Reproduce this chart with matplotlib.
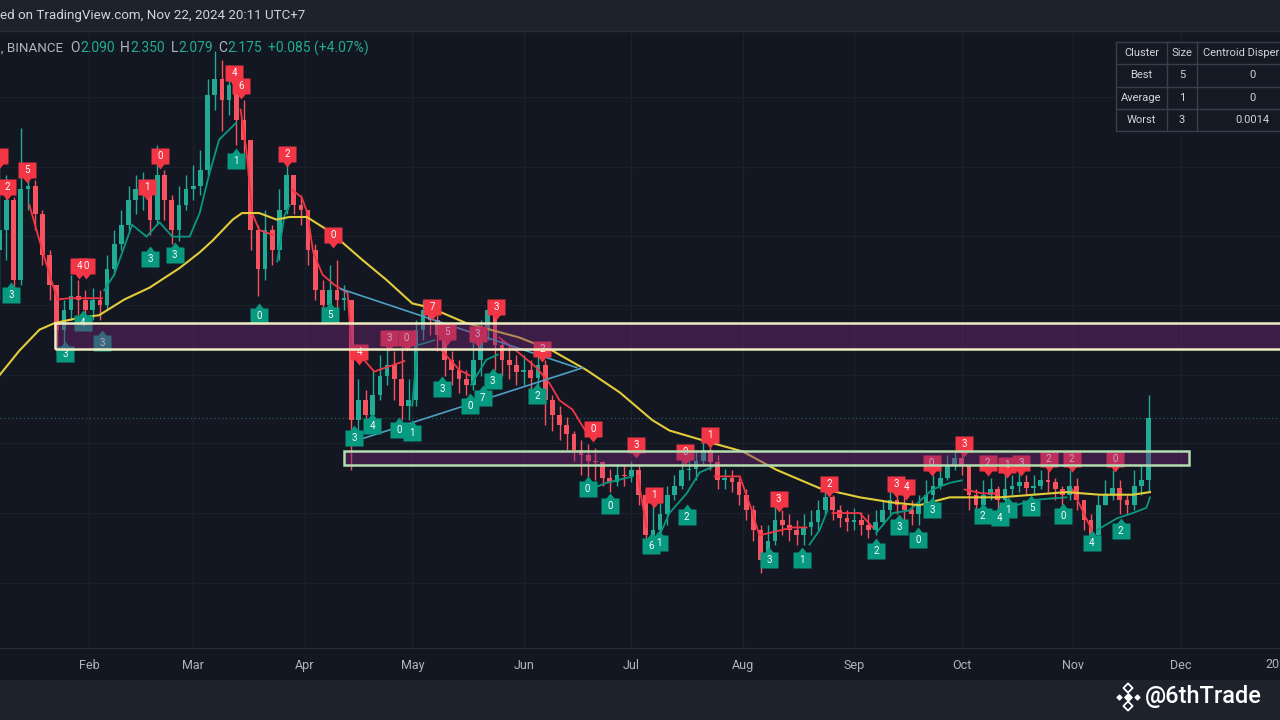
import matplotlib
matplotlib.use("Agg")
import matplotlib.pyplot as plt
import matplotlib.dates as mdates
from matplotlib.path import Path
from matplotlib.markers import MarkerStyle
from matplotlib.patches import Rectangle
import numpy as np

plt.rcParams['font.family'] = ['Roboto', 'DejaVu Sans']

BG = '#131722'
PANEL = '#1e222d'
GRID = '#1c202b'
TXT = '#b2b5be'
CANDLE_UP = '#22ab94'
CANDLE_DN = '#f7525f'
UP = '#089981'
DN = '#f23645'

# ---- candles: one every 2 days, 2024-01-07 .. 2024-11-22 ----
first_day = np.datetime64('2024-01-07')
first_open = 3.46
closes = [3.61, 3.84, 3.23, 3.92, 3.95, 3.73, 3.42, 3.19, 2.85, 3.00,
          3.11, 3.08, 3.00, 3.08, 3.04, 3.31, 3.50, 3.65, 3.84, 3.92,
          3.95, 3.69, 4.03, 3.84, 3.61, 3.80, 3.92, 3.95, 4.07, 4.64,
          4.76, 4.60, 4.72, 4.45, 4.30, 3.61, 3.31, 3.61, 3.46, 3.76,
          4.03, 3.80, 3.76, 3.46, 3.15, 3.04, 3.15, 3.08, 3.08, 2.16,
          2.31, 2.20, 2.35, 2.50, 2.58, 2.47, 2.27, 2.31, 2.85, 3.00,
          2.92, 2.81, 2.62, 2.54, 2.47, 2.43, 2.62, 2.85, 3.00, 2.73,
          2.62, 2.58, 2.53, 2.54, 2.48, 2.58, 2.31, 2.20, 2.12, 2.05,
          1.93, 1.89, 1.85, 1.84, 1.72, 1.69, 1.74, 1.73, 1.78, 1.59,
          1.28, 1.32, 1.44, 1.59, 1.66, 1.78, 1.79, 1.85, 1.93, 1.84,
          1.70, 1.72, 1.69, 1.59, 1.47, 1.32, 1.09, 1.24, 1.40, 1.36,
          1.32, 1.28, 1.34, 1.38, 1.47, 1.57, 1.47, 1.41, 1.38, 1.40,
          1.36, 1.32, 1.38, 1.47, 1.55, 1.51, 1.47, 1.44, 1.51, 1.59,
          1.66, 1.72, 1.82, 1.87, 1.82, 1.59, 1.51, 1.59, 1.63, 1.55,
          1.63, 1.66, 1.69, 1.64, 1.66, 1.70, 1.69, 1.63, 1.59, 1.66,
          1.55, 1.40, 1.28, 1.51, 1.59, 1.64, 1.55, 1.51, 1.66, 1.70,
          2.175]
highs = [4.15, 4.03, 3.86, 4.39, 4.11, 3.99, 3.76, 3.46, 3.15, 3.08,
         3.27, 3.23, 3.15, 3.17, 3.15, 3.42, 3.61, 3.76, 3.95, 4.03,
         4.05, 3.92, 4.26, 4.07, 3.88, 3.95, 4.03, 4.11, 4.22, 4.76,
         4.98, 4.91, 4.87, 4.76, 4.60, 4.30, 3.65, 3.76, 3.65, 3.92,
         4.11, 4.03, 3.88, 3.76, 3.50, 3.23, 3.34, 3.38, 3.19, 3.08,
         2.47, 2.39, 2.54, 2.66, 2.73, 2.69, 2.73, 2.47, 2.92, 3.08,
         3.04, 2.96, 2.85, 2.69, 2.62, 2.54, 2.77, 2.92, 3.08, 3.04,
         2.77, 2.73, 2.66, 2.66, 2.62, 2.68, 2.62, 2.35, 2.27, 2.18,
         2.08, 2.01, 1.98, 1.95, 1.85, 1.79, 1.82, 1.82, 1.85, 1.82,
         1.63, 1.55, 1.55, 1.66, 1.74, 1.85, 1.89, 1.93, 2.01, 1.97,
         1.89, 1.79, 1.78, 1.72, 1.63, 1.51, 1.36, 1.36, 1.51, 1.47,
         1.44, 1.40, 1.44, 1.47, 1.55, 1.63, 1.59, 1.51, 1.47, 1.49,
         1.46, 1.44, 1.47, 1.55, 1.63, 1.59, 1.57, 1.55, 1.59, 1.70,
         1.74, 1.82, 1.89, 1.93, 1.92, 1.82, 1.63, 1.70, 1.72, 1.66,
         1.74, 1.74, 1.78, 1.74, 1.74, 1.78, 1.78, 1.72, 1.66, 1.78,
         1.72, 1.55, 1.44, 1.59, 1.70, 1.78, 1.70, 1.59, 1.78, 1.82,
         2.35]
lows = [3.08, 3.38, 3.08, 3.19, 3.76, 3.61, 3.34, 3.08, 2.66, 2.73,
        2.92, 2.96, 2.85, 2.92, 2.92, 3.00, 3.27, 3.46, 3.61, 3.73,
        3.76, 3.57, 3.65, 3.69, 3.50, 3.53, 3.76, 3.84, 3.88, 4.03,
        4.53, 4.37, 4.49, 4.26, 4.15, 3.46, 3.11, 3.23, 3.34, 3.38,
        3.73, 3.73, 3.65, 3.34, 3.08, 2.92, 3.00, 3.00, 3.00, 1.78,
        2.08, 2.08, 2.16, 2.31, 2.43, 2.31, 2.16, 2.16, 2.27, 2.77,
        2.81, 2.69, 2.50, 2.43, 2.37, 2.35, 2.39, 2.50, 2.77, 2.54,
        2.50, 2.47, 2.43, 2.43, 2.39, 2.39, 2.12, 2.08, 2.01, 1.93,
        1.85, 1.74, 1.72, 1.70, 1.66, 1.61, 1.66, 1.66, 1.69, 1.51,
        1.18, 1.17, 1.24, 1.36, 1.55, 1.63, 1.70, 1.70, 1.82, 1.78,
        1.63, 1.63, 1.61, 1.51, 1.40, 1.24, 0.99, 1.05, 1.21, 1.28,
        1.24, 1.21, 1.21, 1.28, 1.32, 1.44, 1.40, 1.34, 1.31, 1.32,
        1.28, 1.26, 1.28, 1.36, 1.44, 1.44, 1.40, 1.36, 1.36, 1.47,
        1.55, 1.63, 1.70, 1.78, 1.74, 1.47, 1.46, 1.47, 1.55, 1.47,
        1.51, 1.59, 1.61, 1.59, 1.59, 1.63, 1.61, 1.55, 1.51, 1.55,
        1.47, 1.32, 1.21, 1.24, 1.51, 1.55, 1.44, 1.44, 1.47, 1.59,
        1.61]

# moving average (yellow), positions in bars (2-day steps from first_day)
ma_bar = [0, 2.8, 5.6, 7.7, 11.1, 13.9, 17.4, 20.9, 25.1, 27.9, 29.7, 32.5, 33.8, 36.2,
          38.6, 40.4, 42.8, 46.0, 50.6, 53.9, 57.5, 59.9, 65.0, 72.4, 77.0, 81.8, 86.4,
          90.9, 93.3, 98.9, 103.5, 108.2, 114.2, 119.8, 124.4, 128.1, 132.3, 139.3,
          148.6, 153.2, 157.8, 160.2]
ma_price = [2.50, 2.69, 2.85, 2.90, 2.94, 2.96, 3.08, 3.17, 3.32, 3.44, 3.53, 3.69, 3.74,
            3.74, 3.69, 3.71, 3.71, 3.60, 3.38, 3.23, 3.05, 3.02, 2.90, 2.79, 2.69, 2.54,
            2.37, 2.16, 2.08, 1.99, 1.92, 1.78, 1.64, 1.57, 1.53, 1.51, 1.57, 1.57, 1.61,
            1.59, 1.59, 1.61]

# trailing stop (1 = bullish / teal, -1 = bearish / red)
trail_bar = [4.2, 5.6, 7.0, 8.1, 9.7, 14.3,
             14.6, 16.0, 18.5, 20.5, 22.3, 24.1, 26.5, 27.9, 29.2, 30.6, 33.0,
             33.6, 34.4, 35.2, 36.2, 38.3,
             38.7, 39.7, 40.4,
             40.7, 42.1, 42.9, 43.7, 45.0, 46.7, 48.5, 49.0, 52.2, 56.4,
             57.5, 58.2, 60.6,
             61.6, 64.1, 65.5,
             65.7, 67.8, 69.4,
             69.6, 72.4, 74.8, 76.6, 78.0, 79.8, 81.8,
             82.2, 84.5, 88.2,
             88.9, 90.1,
             91.6, 93.3, 95.7, 97.5, 99.2,
             99.6, 103.1, 104.9, 105.8, 110.4, 112.4,
             112.8, 114.2, 115.3,
             116.0, 119.8, 121.6,
             122.1, 124.4, 126.7, 129.9, 132.3, 134.0,
             134.4, 136.9, 139.0,
             139.3, 143.9, 148.6,
             149.4, 151.4, 152.1,
             152.8, 155.6, 157.8, 159.7, 160.2]
trail_price = [3.80, 3.53, 3.27, 3.08, 3.09, 3.09,
               3.15, 3.27, 3.65, 3.56, 3.67, 3.56, 3.56, 3.74, 4.03, 4.30, 4.43,
               4.53, 4.22, 3.74, 3.61, 3.57,
               3.37, 3.72, 3.80,
               3.92, 3.86, 3.74, 3.44, 3.27, 3.19, 3.13, 2.73, 2.53, 2.61,
               2.27, 2.73, 2.77,
               2.69, 2.54, 2.50,
               2.43, 2.62, 2.66,
               2.79, 2.67, 2.56, 2.44, 2.31, 2.24, 2.06,
               1.63, 1.68, 1.73,
               1.73, 1.34,
               1.24, 1.45, 1.60, 1.76, 1.80,
               1.73, 1.73, 1.45, 1.28, 1.34, 1.34,
               1.21, 1.32, 1.47,
               1.45, 1.45, 1.34,
               1.30, 1.45, 1.47, 1.63, 1.68, 1.70,
               1.63, 1.60, 1.60,
               1.47, 1.55, 1.57,
               1.63, 1.40, 1.32,
               1.32, 1.41, 1.45, 1.49, 1.57]
trail_side = ([-1] * 6 + [1] * 11 + [-1] * 5 + [1] * 3 + [-1] * 10 + [1] * 3 + [-1] * 3 +
              [1] * 3 + [-1] * 7 + [1] * 3 + [-1] * 2 + [1] * 5 + [-1] * 6 + [1] * 3 +
              [-1] * 3 + [1] * 6 + [-1] * 3 + [1] * 3 + [-1] * 3 + [1] * 5)

# cluster signal labels
red_bar = [0.0, 1.1, 3.8, 11.1, 12.1, 20.5, 22.4, 32.7, 33.6, 40.1, 46.5, 50.1, 54.3, 56.7,
           60.3, 62.3, 66.6, 69.2, 75.6, 82.7, 88.7, 91.1, 95.5, 99.0, 108.5, 115.5, 124.9,
           126.3, 129.8, 134.3, 137.6, 140.3, 142.3, 146.1, 149.3, 155.3]
red_price = [4.08, 3.84, 3.97, 3.24, 3.24, 3.84, 4.08, 4.71, 4.61, 4.09, 3.47, 2.58, 2.69,
             2.69, 2.92, 2.73, 2.72, 2.92, 2.60, 1.99, 1.87, 1.49, 1.82, 1.95, 1.46, 1.57,
             1.57, 1.55, 1.73, 1.88, 1.73, 1.72, 1.73, 1.76, 1.76, 1.76]
red_text = ['3', '2', '5', '4', '0', '1', '0', '4', '6', '2', '0', '4', '3', '0', '7', '5',
            '3', '3', '2', '0', '3', '1', '0', '1', '3', '2', '3', '4', '0', '3', '2', '1',
            '3', '2', '2', '0']
teal_bar = [1.7, 9.2, 11.6, 14.3, 21.0, 24.4, 32.9, 36.2, 46.0, 49.4, 51.9, 55.7, 57.4, 61.7,
            65.5, 67.3, 68.7, 74.9, 81.9, 85.0, 90.8, 91.9, 95.7, 107.2, 111.8, 122.1, 125.3,
            127.9, 129.9, 136.9, 139.3, 140.4, 143.7, 148.1, 152.1, 156.1]
teal_price = [3.21, 2.76, 3.00, 2.85, 3.49, 3.52, 4.24, 3.05, 3.06, 2.12, 2.21, 2.18, 2.16,
              2.50, 2.37, 2.43, 2.56, 2.44, 1.73, 1.60, 1.30, 1.32, 1.52, 1.19, 1.19, 1.26,
              1.44, 1.34, 1.57, 1.53, 1.51, 1.57, 1.59, 1.53, 1.32, 1.41]
teal_text = ['3', '3', '4', '3', '3', '3', '1', '0', '5', '3', '4', '0', '1', '3', '0', '7',
             '3', '2', '0', '0', '6', '1', '2', '3', '1', '2', '3', '0', '3', '2', '4', '1',
             '5', '0', '4', '2']

# supply / demand zones
zone_start = [7.7, 48.0]
zone_end = [190.0, 165.7]
zone_low = [2.70, 1.82]
zone_high = [2.90, 1.92]
zone_edge = ['#f1edc2', '#b4dcb0']

# triangle trend lines
tri_upper_bar = [47.6, 80.4]
tri_upper_price = [3.16, 2.56]
tri_lower_bar = [50.1, 81.3]
tri_lower_price = [2.01, 2.56]

last_price = 2.175
grid_prices = [0.916, 1.45, 1.985, 2.504, 3.04, 3.565, 4.09, 4.626]

clusters = ['Best', 'Average', 'Worst']
cluster_size = ['5', '1', '3']
cluster_disp = ['0', '0', '0.0014']


base = mdates.date2num(first_day)


def bar_x(b):
    return base + 2.0 * np.asarray(b, dtype=float)


fig = plt.figure(figsize=(12.8, 7.2), dpi=100, facecolor=BG)
ax = fig.add_axes([0, 0.1, 1, 1 - 0.1 - 32 / 720])
ax.set_facecolor(BG)

c = np.array(closes)
o = np.r_[first_open, c[:-1]]
h = np.maximum(np.array(highs), np.maximum(o, c))
lo = np.minimum(np.array(lows), np.minimum(o, c))
x = bar_x(np.arange(len(c)))
cols = np.where(c >= o, CANDLE_UP, CANDLE_DN)
ax.vlines(x, lo, h, colors=cols, lw=1.0, zorder=2)
body = np.maximum(np.abs(c - o), 0.008)
ax.bar(x, body, bottom=np.minimum(o, c), width=1.3, color=cols, lw=0, zorder=2)

# trailing stop segments
tb = np.array(trail_bar)
tp = np.array(trail_price)
ts = np.array(trail_side)
start = 0
for k in range(1, len(ts) + 1):
    if k == len(ts) or ts[k] != ts[start]:
        colr = UP if ts[start] > 0 else DN
        ax.plot(bar_x(tb[start:k]), tp[start:k], color=colr, lw=1.3, zorder=3,
                solid_joinstyle='miter')
        start = k

ax.plot(bar_x(ma_bar), ma_price, color='#e3cc3a', lw=1.5, zorder=3)

ax.plot(bar_x(tri_upper_bar), tri_upper_price, color='#4f9fc4', lw=1.2, zorder=4)
ax.plot(bar_x(tri_lower_bar), tri_lower_price, color='#4f9fc4', lw=1.2, zorder=4)

ax.axhline(last_price, color='#2a8c7e', lw=0.8, ls=(0, (1, 2.5)), alpha=0.7, zorder=1)

# labels: custom marker with the pointer tip at the origin
down_verts = [(0, 0), (-4, 5), (-9, 5), (-9, 21), (9, 21), (9, 5), (4, 5), (0, 0)]
codes = [Path.MOVETO] + [Path.LINETO] * 6 + [Path.CLOSEPOLY]
down_mk = MarkerStyle(Path(down_verts, codes))
up_mk = MarkerStyle(Path([(vx, -vy) for vx, vy in down_verts], codes))
msize = 21 * 0.72 * 2

ax.plot(bar_x(red_bar), red_price, ls='none', marker=down_mk, markersize=msize,
        color=DN, mew=0, zorder=5)
ax.plot(bar_x(teal_bar), teal_price, ls='none', marker=up_mk, markersize=msize,
        color=UP, mew=0, zorder=5)
for b, p, t in zip(red_bar, red_price, red_text):
    ax.annotate(t, (bar_x(b), p), xytext=(0, 13), textcoords='offset pixels',
                ha='center', va='center', fontsize=7, color='white', zorder=5)
for b, p, t in zip(teal_bar, teal_price, teal_text):
    ax.annotate(t, (bar_x(b), p), xytext=(0, -13), textcoords='offset pixels',
                ha='center', va='center', fontsize=7, color='white', zorder=5)

# zones drawn on top with translucent fill
for s, e, zl, zh, ec in zip(zone_start, zone_end, zone_low, zone_high, zone_edge):
    x0, x1 = bar_x(s), bar_x(e)
    ax.add_patch(Rectangle((x0, zl), x1 - x0, zh - zl, facecolor='#742679', alpha=0.42,
                           lw=0, zorder=6))
    ax.add_patch(Rectangle((x0, zl), x1 - x0, zh - zl, facecolor='none', edgecolor=ec,
                           lw=1.8, zorder=6))

ax.set_xlim(base + 0.2, base + 2 * 178.3)
ax.set_ylim(0.42, 5.122)
ax.xaxis.set_major_locator(mdates.MonthLocator(bymonth=range(2, 13)))
ax.xaxis.set_major_formatter(mdates.DateFormatter('%b'))
ax.set_yticks(grid_prices)
ax.set_yticklabels([])
ax.tick_params(axis='both', length=0, colors=TXT, labelsize=9, pad=8)
ax.tick_params(axis='y', labelleft=False)
ax.grid(True, color=GRID, lw=1.0, zorder=0)
ax.set_axisbelow(True)
for sp in ax.spines.values():
    sp.set_visible(False)
ax.spines['bottom'].set_visible(True)
ax.spines['bottom'].set_color('#2a2e39')

# ---- chrome: header, table, watermark in pixel coords ----
ov = fig.add_axes([0, 0, 1, 1], zorder=10)
ov.set_xlim(0, 1280)
ov.set_ylim(720, 0)
ov.axis('off')
ov.patch.set_alpha(0)

ov.add_patch(Rectangle((0, 0), 1280, 31, color=PANEL, lw=0))
ov.plot([0, 1280], [31, 31], color='#2a2e39', lw=1)
ov.text(0, 16, 'ed on TradingView.com, Nov 22, 2024 20:11 UTC+7', color='#d1d4dc',
        fontsize=9.6, va='center', ha='left')

TV_TEAL = '#22ab94'
ov.text(63, 48, 'D, BINANCE', color=TXT, fontsize=9.6, va='center', ha='right')
parts = [(70, 'O', TXT), (80, '2.090', TV_TEAL),
         (120, 'H', TXT), (130, '2.350', TV_TEAL), (171, 'L', TXT), (178, '2.079', TV_TEAL),
         (218, 'C', TXT), (227, '2.175', TV_TEAL), (268, '+0.085 (+4.07%)', TV_TEAL)]
for px, s, colr in parts:
    ov.text(px, 48, s, color=colr, fontsize=10, va='center', ha='left')

# cluster table
col_x = [1116, 1167, 1197, 1320]
row_y = [42, 64, 87, 109, 131]
ov.add_patch(Rectangle((col_x[0], row_y[0]), col_x[-1] - col_x[0], row_y[-1] - row_y[0],
                       facecolor='#151924', edgecolor='#3a3e4a', lw=1))
for yy in row_y[1:-1]:
    ov.plot([col_x[0], col_x[-1]], [yy, yy], color='#3a3e4a', lw=1)
for xx in col_x[1:-1]:
    ov.plot([xx, xx], [row_y[0], row_y[-1]], color='#3a3e4a', lw=1)
cells = [['Cluster', 'Size', 'Centroid Dispersion']] + \
        [[n, s, d] for n, s, d in zip(clusters, cluster_size, cluster_disp)]
for r, row in enumerate(cells):
    yc = (row_y[r] + row_y[r + 1]) / 2
    for ci, val in enumerate(row):
        xc = (col_x[ci] + col_x[ci + 1]) / 2
        if r == 0 and ci == 2:
            ov.text(1203, yc, val, color='#d1d4dc', fontsize=8, ha='left', va='center')
        else:
            xc = 1252 if ci == 2 else xc
            ov.text(xc, yc, val, color='#d1d4dc', fontsize=8, ha='center', va='center')

ov.text(1280, 664, '2025', color=TXT, fontsize=9, ha='center', va='center')

# watermark strip
ov.add_patch(Rectangle((0, 680), 1280, 40, color=PANEL, lw=0))
ov.scatter([1128], [697], marker='D', s=14, color='white')
ov.scatter([1119, 1137], [697, 697], marker='D', s=6, color='white')
ov.scatter([1128, 1128], [688, 706], marker='D', s=22, facecolors='none',
           edgecolors='white', linewidths=1.3)
ov.text(1145, 696, '@6thTrade', color='white', fontsize=17, ha='left', va='center',
        fontweight='medium')

fig.savefig('out.png', dpi=100, facecolor=BG)
